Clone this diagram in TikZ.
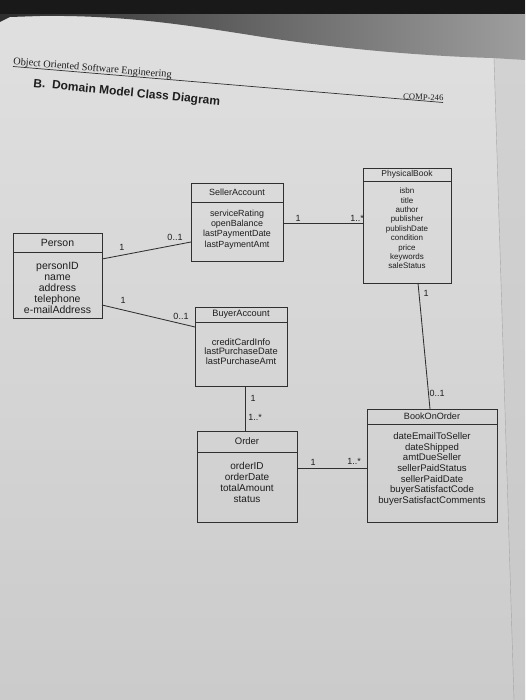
\documentclass[tikz,border=0pt]{standalone}
\usepackage{fontspec}
\setmainfont{Liberation Sans}
\newfontfamily\hdserif{Liberation Serif}
\usetikzlibrary{calc}
\definecolor{ink}{HTML}{303030}
\definecolor{txt}{HTML}{1E1E1E}
\definecolor{papertop}{HTML}{E0E0E0}
\definecolor{paperbot}{HTML}{CBCBCB}
\begin{document}
\begin{tikzpicture}[x=1pt,y=-1pt,
  box/.style={draw=ink, line width=0.85pt, inner sep=0pt, outer sep=0pt},
  hdr/.style={box, text=txt},
  attrs/.style={text=txt, align=center, inner sep=0pt},
  lbl/.style={text=txt, inner sep=0pt, font=\fontsize{9}{10}\selectfont},
  conn/.style={draw=ink, line width=0.85pt}]
\useasboundingbox (0,0) rectangle (525,700);
% paper and photo background
\shade[top color=papertop, bottom color=paperbot] (0,0) rectangle (525,700);
\fill[black!22, opacity=0.5] (494,58) -- (525,60) -- (525,700) -- (514,700) -- cycle;
\draw[black!35, line width=0.4pt] (494,58) -- (514,700);
\shade[left color=black!82, right color=black!38] (0,0) -- (525,0) -- (525,60) -- (492,58)
  .. controls (420,56) and (330,48) .. (250,35) .. controls (180,24) and (120,15) .. (40,16)
  -- (10,17) -- (0,22) -- cycle;
\fill[black!90] (0,0) rectangle (525,14);

% page header
\node[font=\hdserif\fontsize{10.3}{12}\selectfont, text=txt, rotate=-4.8, anchor=base west, inner sep=0pt] (course) at (13,64.5) {Object Oriented Software Engineering};
\node[font=\hdserif\fontsize{8.6}{10}\selectfont, text=txt, rotate=-2, anchor=base west, inner sep=0pt] (code) at (403,99.5) {COMP-246};
\coordinate (ruleA) at (13,66.5);
\coordinate (ruleB) at (443,102.5);
\draw[ink, line width=0.7pt] (ruleA) -- (ruleB);
\node[font=\bfseries\fontsize{12}{14}\selectfont, text=txt, rotate=-5.6, anchor=base west, inner sep=0pt] (title) at (33,87) {B.\ \ Domain Model Class Diagram};

% Person
\node[hdr, minimum width=89pt, minimum height=19pt, font=\fontsize{10.5}{12}\selectfont] (ph) at (57.5,242.5) {Person};
\node[box, minimum width=89pt, minimum height=66pt, anchor=north] (pb) at (ph.south) {};
\node[attrs, font=\fontsize{10.5}{11}\selectfont] (pt) at (57.5,288) {personID\\name\\address\\telephone\\e-mailAddress};

% SellerAccount
\node[hdr, minimum width=92pt, minimum height=19pt, font=\fontsize{9}{11}\selectfont] (sah) at (237,192.5) {SellerAccount};
\node[box, minimum width=92pt, minimum height=59pt, anchor=north] (sab) at (sah.south) {};
\node[attrs, font=\fontsize{8.9}{10.3}\selectfont] (sat) at (237,229.5) {serviceRating\\openBalance\\lastPaymentDate\\lastPaymentAmt};

% PhysicalBook
\node[hdr, minimum width=88pt, minimum height=13pt, font=\fontsize{8.5}{10}\selectfont] (pbh) at (407,174.5) {PhysicalBook};
\node[box, minimum width=88pt, minimum height=102pt, anchor=north] (pbb) at (pbh.south) {};
\node[attrs, font=\fontsize{8}{9.4}\selectfont] (pbt) at (407,228.5) {isbn\\title\\author\\publisher\\publishDate\\condition\\price\\keywords\\saleStatus};

% BuyerAccount
\node[hdr, minimum width=92pt, minimum height=15pt, font=\fontsize{9.2}{11}\selectfont] (bah) at (241,314.5) {BuyerAccount};
\node[box, minimum width=92pt, minimum height=64pt, anchor=north] (bab) at (bah.south) {};
\node[attrs, font=\fontsize{9.3}{9.8}\selectfont] (bat) at (241,351.5) {creditCardInfo\\lastPurchaseDate\\lastPurchaseAmt};

% Order
\node[hdr, minimum width=100pt, minimum height=21pt, font=\fontsize{9.5}{11}\selectfont] (oh) at (247,441.5) {Order};
\node[box, minimum width=100pt, minimum height=70pt, anchor=north] (ob) at (oh.south) {};
\node[attrs, font=\fontsize{10}{11}\selectfont] (ot) at (247,482) {orderID\\orderDate\\totalAmount\\status};

% BookOnOrder
\node[hdr, minimum width=130pt, minimum height=15pt, font=\fontsize{9.1}{11}\selectfont] (boh) at (432,416.5) {BookOnOrder};
\node[box, minimum width=130pt, minimum height=98pt, anchor=north] (bob) at (boh.south) {};
\node[attrs, font=\fontsize{9.6}{10.7}\selectfont] (bot) at (432,469) {dateEmailToSeller\\dateShipped\\amtDueSeller\\sellerPaidStatus\\sellerPaidDate\\buyerSatisfactCode\\buyerSatisfactComments};

% connectors
\draw[conn] ([yshift=26pt]pb.east) -- ([yshift=-10.5pt]sab.west);
\draw[conn] ([yshift=-20pt]pb.east) -- ([yshift=27pt]bab.west);
\draw[conn] ([yshift=8.5pt]sab.east) -- ([yshift=8.5pt]sab.east -| pbb.west);
\draw[conn] ([xshift=11pt]pbb.south) -- ([xshift=-2pt]boh.north);
\draw[conn] ([xshift=4pt]bab.south) -- ([xshift=-2pt]oh.north);
\draw[conn] ([yshift=19pt]ob.east) -- ([yshift=19pt]ob.east -| bob.west);

% multiplicities
\node[lbl] (m1) at (122,247) {1};
\node[lbl] (m2) at (175,237) {0..1};
\node[lbl] (m3) at (123,300) {1};
\node[lbl] (m4) at (181,316) {0..1};
\node[lbl] (m5) at (298,218) {1};
\node[lbl] (m6) at (357,218) {1..*};
\node[lbl] (m7) at (426,293) {1};
\node[lbl] (m8) at (437,393) {0..1};
\node[lbl] (m9) at (253,398) {1};
\node[lbl] (m10) at (255,417) {1..*};
\node[lbl] (m11) at (313,462) {1};
\node[lbl] (m12) at (354,461) {1..*};
\end{tikzpicture}
\end{document}
